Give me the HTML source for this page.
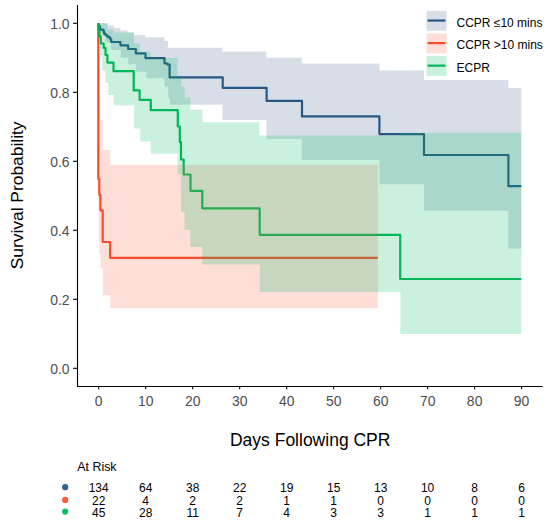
<!DOCTYPE html><html><head><meta charset="utf-8"><style>html,body{margin:0;padding:0;background:#fff;}svg{display:block;}text{font-family:"Liberation Sans",sans-serif;}</style></head><body>
<svg width="550" height="526" viewBox="0 0 550 526">
<rect x="0" y="0" width="550" height="526" fill="#fff"/>
<g fill="none" stroke-width="2.2" stroke-linejoin="round" stroke-linecap="butt">
<path d="M98.5,23.3 V26 H99.9 V29.6 H103.4 V31 H104 V33.3 H105 V34.5 H106.2 V35.5 H107.5 V36.8 H109.5 V37.8 H110.3 V39.3 H111.2 V42 H120.5 V45.3 H128.2 V49 H135.8 V53.4 H145.5 V58.2 H164.5 V63.5 H167.5 V64.6 H169.6 V77.4 H222.7 V87.8 H266.6 V100.9 H302.0 V116.4 H379.4 V134.1 H424 V155 H508.4 V186.2 H521.3" stroke="#205480"/>
<path d="M98.3,23.3 V178.8 H99.3 V194.8 H100.4 V210.3 H102.7 V242.0 H110.1 V257.8 H377.8" stroke="#fa4826"/>
<path d="M98.4,23.3 V30 H99.4 V36.7 H100.8 V43.5 H103.7 V47.8 H105.5 V55 H107.4 V62.6 H113.5 V71.2 H133.7 V90.4 H139.6 V99.8 H150.8 V110.2 H177.8 V126.5 H179.8 V142 H181 V159.5 H183.7 V174.5 H190.5 V190.8 H202.3 V208.3 H259.7 V234.8 H400.2 V279 H521.3" stroke="#00b654"/>
</g>
<polygon points="98.50,23.30 99.10,23.30 99.10,23.30 101.70,23.30 101.70,23.30 105.50,23.30 105.50,23.30 107.70,23.30 107.70,25.60 111.20,25.60 111.20,25.60 113.80,25.60 113.80,28.00 120.30,28.00 120.30,30.30 120.70,30.30 120.70,30.30 127.50,30.30 127.50,32.60 128.30,32.60 128.30,32.60 133.90,32.60 133.90,35.00 135.90,35.00 135.90,35.00 145.30,35.00 145.30,37.30 146.30,37.30 146.30,37.30 164.40,37.30 164.40,40.90 164.50,40.90 164.50,40.90 168.00,40.90 168.00,47.80 168.30,47.80 168.30,47.80 169.90,47.80 169.90,47.80 222.50,47.80 222.50,51.40 266.40,51.40 266.40,57.80 301.80,57.80 301.80,63.40 379.50,63.40 379.50,70.50 424.00,70.50 424.00,79.70 508.30,79.70 508.30,88.00 521.30,88.00 521.30,248.60 508.30,248.60 508.30,210.80 424.00,210.80 424.00,184.30 379.50,184.30 379.50,160.00 301.80,160.00 301.80,139.00 266.40,139.00 266.40,119.90 222.50,119.90 222.50,104.70 169.90,104.70 169.90,97.90 168.30,97.90 168.30,86.40 168.00,86.40 168.00,86.40 164.50,86.40 164.50,78.30 164.40,78.30 164.40,78.30 146.30,78.30 146.30,71.80 145.30,71.80 145.30,71.80 135.90,71.80 135.90,64.20 133.90,64.20 133.90,64.20 128.30,64.20 128.30,57.60 127.50,57.60 127.50,57.60 120.70,57.60 120.70,50.00 120.30,50.00 120.30,50.00 113.80,50.00 113.80,50.00 111.20,50.00 111.20,42.40 107.70,42.40 107.70,42.40 105.50,42.40 105.50,36.00 101.70,36.00 101.70,33.00 99.10,33.00 99.10,23.30 98.50,23.30" fill="#456292" fill-opacity="0.21"/>
<polygon points="98.30,23.30 98.60,23.30 98.60,80.00 99.40,80.00 99.40,80.00 99.60,80.00 99.60,119.70 100.50,119.70 100.50,119.70 102.70,119.70 102.70,150.00 102.90,150.00 102.90,150.00 110.20,150.00 110.20,164.80 377.80,164.80 377.80,308.20 110.20,308.20 110.20,295.20 102.90,295.20 102.90,268.20 102.70,268.20 102.70,268.20 100.50,268.20 100.50,254.00 99.60,254.00 99.60,254.00 99.40,254.00 99.40,240.00 98.60,240.00 98.60,23.30 98.30,23.30" fill="#f56745" fill-opacity="0.21"/>
<polygon points="98.50,23.30 98.80,23.30 98.80,23.30 100.00,23.30 100.00,23.30 102.20,23.30 102.20,23.30 105.20,23.30 105.20,23.30 107.70,23.30 107.70,29.40 108.30,29.40 108.30,29.40 113.60,29.40 113.60,29.40 113.80,29.40 113.80,32.50 133.90,32.50 133.90,43.60 134.10,43.60 134.10,43.60 139.80,43.60 139.80,51.80 140.20,51.80 140.20,51.80 150.70,51.80 150.70,58.00 177.60,58.00 177.60,58.00 177.70,58.00 177.70,77.50 181.00,77.50 181.00,77.50 181.40,77.50 181.40,86.40 184.50,86.40 184.50,86.40 184.70,86.40 184.70,97.60 190.20,97.60 190.20,97.60 190.40,97.60 190.40,109.60 202.30,109.60 202.30,109.60 202.40,109.60 202.40,122.30 259.40,122.30 259.40,135.50 259.70,135.50 259.70,135.50 400.20,135.50 400.20,132.80 400.40,132.80 400.40,132.80 521.30,132.80 521.30,334.00 400.40,334.00 400.40,292.00 400.20,292.00 400.20,292.00 259.70,292.00 259.70,264.60 259.40,264.60 259.40,264.60 202.40,264.60 202.40,264.60 202.30,264.60 202.30,247.00 190.40,247.00 190.40,247.00 190.20,247.00 190.20,230.00 184.70,230.00 184.70,230.00 184.50,230.00 184.50,212.00 181.40,212.00 181.40,212.00 181.00,212.00 181.00,174.20 177.70,174.20 177.70,174.20 177.60,174.20 177.60,153.70 150.70,153.70 150.70,141.50 140.20,141.50 140.20,128.40 139.80,128.40 139.80,128.40 134.10,128.40 134.10,105.60 133.90,105.60 133.90,105.60 113.80,105.60 113.80,105.60 113.60,105.60 113.60,95.00 108.30,95.00 108.30,82.80 107.70,82.80 107.70,82.80 105.20,82.80 105.20,70.60 102.20,70.60 102.20,55.00 100.00,55.00 100.00,40.00 98.80,40.00 98.80,23.30 98.50,23.30" fill="#00be64" fill-opacity="0.21"/>
<rect x="424" y="0" width="126" height="79.7" fill="#fff"/>
<line x1="427.6" x2="445.4" y1="20.55" y2="20.55" stroke="#205480" stroke-width="2.2"/>
<rect x="426.5" y="10.9" width="20.1" height="19.9" fill="#456292" fill-opacity="0.21"/>
<text x="456.5" y="26.85" font-size="12" fill="#000">CCPR ≤10 mins</text>
<line x1="427.6" x2="445.4" y1="43.10" y2="43.10" stroke="#fa4826" stroke-width="2.2"/>
<rect x="426.5" y="33.45" width="20.1" height="19.9" fill="#f56745" fill-opacity="0.21"/>
<text x="456.5" y="49.40" font-size="12" fill="#000">CCPR &gt;10 mins</text>
<line x1="427.6" x2="445.4" y1="65.65" y2="65.65" stroke="#00b654" stroke-width="2.2"/>
<rect x="426.5" y="56.0" width="20.1" height="19.9" fill="#00be64" fill-opacity="0.21"/>
<text x="456.5" y="71.95" font-size="12" fill="#000">ECPR</text>
<g stroke="#000" stroke-width="1.1" fill="none">
<line x1="77.5" y1="5" x2="77.5" y2="387"/>
<line x1="77" y1="386.5" x2="542.8" y2="386.5"/>
<line x1="73" y1="368.30" x2="77" y2="368.30"/>
<line x1="73" y1="299.30" x2="77" y2="299.30"/>
<line x1="73" y1="230.30" x2="77" y2="230.30"/>
<line x1="73" y1="161.30" x2="77" y2="161.30"/>
<line x1="73" y1="92.30" x2="77" y2="92.30"/>
<line x1="73" y1="23.30" x2="77" y2="23.30"/>
<line x1="98.70" y1="386" x2="98.70" y2="389.2"/>
<line x1="145.69" y1="386" x2="145.69" y2="389.2"/>
<line x1="192.68" y1="386" x2="192.68" y2="389.2"/>
<line x1="239.67" y1="386" x2="239.67" y2="389.2"/>
<line x1="286.66" y1="386" x2="286.66" y2="389.2"/>
<line x1="333.65" y1="386" x2="333.65" y2="389.2"/>
<line x1="380.64" y1="386" x2="380.64" y2="389.2"/>
<line x1="427.63" y1="386" x2="427.63" y2="389.2"/>
<line x1="474.62" y1="386" x2="474.62" y2="389.2"/>
<line x1="521.61" y1="386" x2="521.61" y2="389.2"/>
</g>
<g font-size="15.5" fill="#4d4d4d">
<text transform="translate(69.6,374.30) scale(0.9,1)" text-anchor="end">0.0</text>
<text transform="translate(69.6,305.30) scale(0.9,1)" text-anchor="end">0.2</text>
<text transform="translate(69.6,236.30) scale(0.9,1)" text-anchor="end">0.4</text>
<text transform="translate(69.6,167.30) scale(0.9,1)" text-anchor="end">0.6</text>
<text transform="translate(69.6,98.30) scale(0.9,1)" text-anchor="end">0.8</text>
<text transform="translate(69.6,29.30) scale(0.9,1)" text-anchor="end">1.0</text>
<text transform="translate(98.70,406) scale(0.9,1)" text-anchor="middle">0</text>
<text transform="translate(145.69,406) scale(0.9,1)" text-anchor="middle">10</text>
<text transform="translate(192.68,406) scale(0.9,1)" text-anchor="middle">20</text>
<text transform="translate(239.67,406) scale(0.9,1)" text-anchor="middle">30</text>
<text transform="translate(286.66,406) scale(0.9,1)" text-anchor="middle">40</text>
<text transform="translate(333.65,406) scale(0.9,1)" text-anchor="middle">50</text>
<text transform="translate(380.64,406) scale(0.9,1)" text-anchor="middle">60</text>
<text transform="translate(427.63,406) scale(0.9,1)" text-anchor="middle">70</text>
<text transform="translate(474.62,406) scale(0.9,1)" text-anchor="middle">80</text>
<text transform="translate(521.61,406) scale(0.9,1)" text-anchor="middle">90</text>
</g>
<text x="310.2" y="445.7" font-size="17.5" text-anchor="middle" fill="#000">Days Following CPR</text>
<text transform="translate(23.3,195.4) rotate(-90)" font-size="17.4" text-anchor="middle" fill="#000">Survival Probability</text>
<text x="77.3" y="471.4" font-size="12.4" fill="#000">At Risk</text>
<circle cx="65.2" cy="487.2" r="3.1" fill="#346294"/>
<text x="98.70" y="492.30" font-size="12" text-anchor="middle" fill="#000">134</text>
<text x="145.69" y="492.30" font-size="12" text-anchor="middle" fill="#000">64</text>
<text x="192.68" y="492.30" font-size="12" text-anchor="middle" fill="#000">38</text>
<text x="239.67" y="492.30" font-size="12" text-anchor="middle" fill="#000">22</text>
<text x="286.66" y="492.30" font-size="12" text-anchor="middle" fill="#000">19</text>
<text x="333.65" y="492.30" font-size="12" text-anchor="middle" fill="#000">15</text>
<text x="380.64" y="492.30" font-size="12" text-anchor="middle" fill="#000">13</text>
<text x="427.63" y="492.30" font-size="12" text-anchor="middle" fill="#000">10</text>
<text x="474.62" y="492.30" font-size="12" text-anchor="middle" fill="#000">8</text>
<text x="521.61" y="492.30" font-size="12" text-anchor="middle" fill="#000">6</text>
<circle cx="65.2" cy="499.9" r="3.1" fill="#fa5c3e"/>
<text x="98.70" y="505.00" font-size="12" text-anchor="middle" fill="#000">22</text>
<text x="145.69" y="505.00" font-size="12" text-anchor="middle" fill="#000">4</text>
<text x="192.68" y="505.00" font-size="12" text-anchor="middle" fill="#000">2</text>
<text x="239.67" y="505.00" font-size="12" text-anchor="middle" fill="#000">2</text>
<text x="286.66" y="505.00" font-size="12" text-anchor="middle" fill="#000">1</text>
<text x="333.65" y="505.00" font-size="12" text-anchor="middle" fill="#000">1</text>
<text x="380.64" y="505.00" font-size="12" text-anchor="middle" fill="#000">0</text>
<text x="427.63" y="505.00" font-size="12" text-anchor="middle" fill="#000">0</text>
<text x="474.62" y="505.00" font-size="12" text-anchor="middle" fill="#000">0</text>
<text x="521.61" y="505.00" font-size="12" text-anchor="middle" fill="#000">0</text>
<circle cx="65.2" cy="511.6" r="3.1" fill="#10bc64"/>
<text x="98.70" y="516.70" font-size="12" text-anchor="middle" fill="#000">45</text>
<text x="145.69" y="516.70" font-size="12" text-anchor="middle" fill="#000">28</text>
<text x="192.68" y="516.70" font-size="12" text-anchor="middle" fill="#000">11</text>
<text x="239.67" y="516.70" font-size="12" text-anchor="middle" fill="#000">7</text>
<text x="286.66" y="516.70" font-size="12" text-anchor="middle" fill="#000">4</text>
<text x="333.65" y="516.70" font-size="12" text-anchor="middle" fill="#000">3</text>
<text x="380.64" y="516.70" font-size="12" text-anchor="middle" fill="#000">3</text>
<text x="427.63" y="516.70" font-size="12" text-anchor="middle" fill="#000">1</text>
<text x="474.62" y="516.70" font-size="12" text-anchor="middle" fill="#000">1</text>
<text x="521.61" y="516.70" font-size="12" text-anchor="middle" fill="#000">1</text>
</svg></body></html>
